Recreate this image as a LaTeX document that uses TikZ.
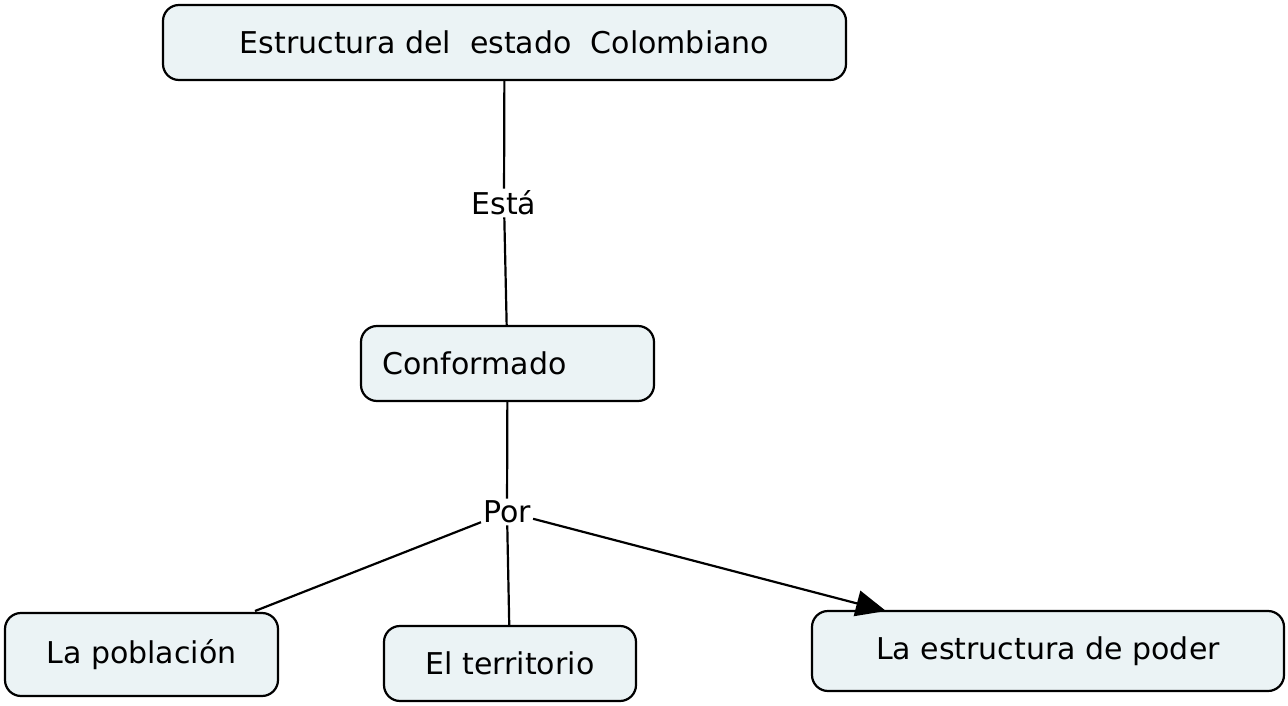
\documentclass[tikz,border=0pt]{standalone}
\usepackage{fontspec}
\setmainfont{DejaVu Sans}
\usetikzlibrary{arrows.meta}
\definecolor{boxfill}{HTML}{EBF3F5}
\begin{document}
\begin{tikzpicture}[x=1pt,y=-1pt,
  box/.style={draw,line width=2.2pt,fill=boxfill,rounded corners=16pt,inner sep=0pt,font=\fontsize{30}{36}\selectfont},
  lab/.style={inner sep=2pt,font=\fontsize{30}{36}\selectfont},
  con/.style={line width=2.2pt}]
\useasboundingbox (0,0) rectangle (1288,706);
\node[box,minimum width=683pt,minimum height=75pt] (top) at (504.5,42.5) {Estructura del\ \ estado\ \ Colombiano};
\node[box,minimum width=293pt,minimum height=75pt,text width=250pt] (conf) at (507.5,363.5) {Conformado};
\node[box,minimum width=273pt,minimum height=83pt] (pob) at (141.5,654.5) {La población};
\node[box,minimum width=252pt,minimum height=75pt] (terr) at (510,663.5) {El territorio};
\node[box,minimum width=472pt,minimum height=80pt] (poder) at (1048,651) {La estructura de poder};
\node[lab] (esta) at (504,203) {Está};
\node[lab] (por) at (507,512) {Por};
\coordinate (pobend) at (255,611);
\coordinate (poderend) at (886,611);
\draw[con] (top) -- (esta);
\draw[con] (esta) -- (conf);
\draw[con] (conf) -- (por);
\draw[con] (por) -- (pobend);
\draw[con] (por) -- (terr);
\draw[con,-{Triangle[length=30pt,width=26pt]}] (por) -- (poderend);
\end{tikzpicture}
\end{document}
